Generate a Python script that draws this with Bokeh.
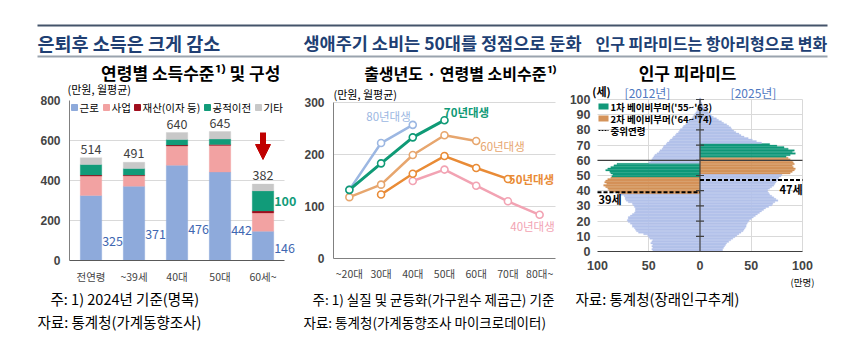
from bokeh.plotting import figure
from bokeh.layouts import column, row
from bokeh.models import Range1d, FixedTicker, Label, Arrow, NormalHead, ColumnDataSource
from bokeh.embed import file_html
from bokeh.resources import INLINE
from bokeh.core.properties import value

KR = "Noto Sans CJK KR"
NUM = "Liberation Sans"

# ---------------- data ----------------
income_groups = ["전연령", "~39세", "40대", "50대", "60세~"]
income_series = ["근로", "사업", "재산(이자 등)", "공적이전", "기타"]
income_labor = [325, 371, 476, 442, 146]
income_business = [97, 53, 97, 133, 92]
income_property = [5, 3, 4, 5, 10]
income_transfer = [53, 33, 28, 27, 100]
income_other = [34, 31, 35, 38, 34]
income_total = [514, 491, 640, 645, 382]

age_groups = ["~20대", "30대", "40대", "50대", "60대", "70대", "80대~"]
cohort_names = ["40년대생", "50년대생", "60년대생", "80년대생", "70년대생"]
cons_1940s = [None, None, 149, 171, 140, 110, 84]
cons_1950s = [None, 123, 163, 197, 174, 153, None]
cons_1960s = [118, 142, 199, 237, 226, None, None]
cons_1980s = [132, 222, 257, None, None, None, None]
cons_1970s = [132, 183, 233, 266, None, None, None]

pop_ages = list(range(0, 101))
pop_2012 = [
    46, 47, 46, 47, 46, 48, 47, 46, 49, 50,
    51, 55, 60, 62, 63, 64, 66, 66, 68, 70,
    71, 70, 70, 68, 66, 64, 63, 63, 63, 64,
    65, 66, 70, 72, 73, 73, 74, 78, 80, 88,
    89, 90, 92, 94, 91, 93, 92, 90, 87, 86,
    85, 87, 88, 92, 90, 87, 84, 81, 50, 48,
    47, 46, 45, 44, 42, 40, 39, 37, 36, 35,
    33, 32, 30, 29, 27, 26, 24, 23, 21, 20,
    19, 17, 16, 14, 13, 11, 9, 8, 7, 6,
    5, 4, 3, 3, 2, 2, 1, 1, 1, 0.5, 0.5,
]
pop_2025 = [
    22, 22, 23, 24, 25, 26, 28, 30, 32, 34,
    36, 38, 40, 42, 43, 44, 45, 45, 46, 47,
    48, 50, 52, 54, 56, 58, 60, 62, 64, 67,
    70, 71, 73, 76, 74, 72, 70, 68, 67, 66,
    66, 68, 70, 72, 73, 74, 75, 76, 77, 79,
    80, 88, 90, 92, 93, 91, 90, 92, 91, 90,
    88, 86, 84, 88, 93, 90, 92, 86, 82, 75,
    68, 60, 55, 51, 47, 43, 40, 38, 35, 33,
    31, 30, 28, 26, 23, 21, 18, 16, 13, 11,
    10, 8, 7, 6, 5, 3, 2, 2, 1, 1, 1,
]
pop_years = [2012, 2025]
median_age = [39, 47]
boomer1_years = (1955, 1963)
boomer2_years = (1964, 1974)
x_ticks_pop = [-100, -50, 0, 50, 100]

# ---------------- styles ----------------
INC_COLORS = ["#8eaadb", "#f2a2a2", "#a00f1e", "#119b79", "#c8c8c8"]
COH_COLORS = {"40년대생": "#f2a3b3", "50년대생": "#e98b36", "60년대생": "#e7a66e",
              "80년대생": "#9cb7e2", "70년대생": "#0f9a76"}
POP_BASE = "#b3c2ea"
POP_B1 = "#11997a"
POP_B2 = "#d4935a"
GRID = "#d9d9d9"
AXIS = "#808080"


def add_label(p, x, y, text, size, color="#000000", align="left", baseline="middle",
              bold=False, font=KR):
    p.add_layout(Label(x=x, y=y, text=text, text_font=font, text_font_size=f"{size}px",
                       text_color=color, text_align=align, text_baseline=baseline,
                       text_font_style="bold" if bold else "normal"))


def limit_grid(grid, lo, hi):
    for g in grid:
        if "cross_bounds" in g.properties():
            g.cross_bounds = (lo, hi)


def make_panel(width, conv, gx0, gx1):
    # the frame covers the whole canvas of the panel; axes are placed with fixed_location
    xr = Range1d(conv(gx0, 0)[0], conv(gx1, 0)[0])
    yr = Range1d(conv(0, 350)[1], conv(0, 60)[1])
    p = figure(width=width, height=290, x_range=xr, y_range=yr, toolbar_location=None,
               output_backend="svg", title_location=None, min_border=0)
    p.outline_line_color = None
    p.background_fill_color = "white"
    p.border_fill_color = "white"
    for ax in (p.xaxis, p.yaxis):
        ax.major_tick_line_color = None
        ax.minor_tick_line_color = None
        ax.major_tick_out = 0
        ax.major_tick_in = 0
        ax.minor_tick_out = 0
        ax.minor_tick_in = 0
    return p


# ---------------- header ----------------
hdr = figure(width=857, height=60, x_range=Range1d(0, 857), y_range=Range1d(60, 0),
             x_axis_type=None, y_axis_type=None, toolbar_location=None,
             output_backend="svg", title_location=None, min_border=0)
hdr.outline_line_color = None
hdr.segment(x0=[37, 37], y0=[25, 56], x1=[827, 827], y1=[25, 56],
            line_color=["#44546a", "#9aa3ae"], line_width=2)
hdr.text(x=[37], y=[42], text=["은퇴후  소득은  크게  감소"], text_font=value(KR),
         text_font_size="18.5px", text_font_style="bold", text_color="#203f73",
         text_baseline="middle")
hdr.text(x=[303], y=[42], text=["생애주기 소비는 50대를 정점으로 둔화"], text_font=value(KR),
         text_font_size="17.5px", text_font_style="bold", text_color="#203f73",
         text_baseline="middle")
hdr.text(x=[595], y=[42], text=["인구 피라미드는 항아리형으로 변화"], text_font=value(KR),
         text_font_size="16px", text_font_style="bold", text_color="#203f73",
         text_baseline="middle")

# ---------------- panel 1 ----------------
def P1(px, py):
    return ((px - 69) / 43.0 - 0.5, (260 - py) * 5.0)

n1 = len(income_groups)
p1 = make_panel(300, P1, 0, 300)
src1 = ColumnDataSource(dict(x=list(range(n1)), labor=income_labor,
                             business=income_business, prop=income_property,
                             transfer=income_transfer, other=income_other))
p1.vbar_stack(["labor", "business", "prop", "transfer", "other"], x="x", width=0.5,
              source=src1, color=INC_COLORS, line_width=0.3)
p1.xgrid.visible = False
p1.ygrid.ticker = FixedTicker(ticks=[200, 400, 600])
p1.ygrid.grid_line_color = GRID
limit_grid(p1.ygrid, -0.5, n1 - 0.5)
p1.xaxis.fixed_location = 0
p1.xaxis.bounds = (-0.5, n1 - 0.5)
p1.yaxis.fixed_location = -0.5
p1.yaxis.bounds = (0, 800)
p1.xaxis.ticker = FixedTicker(ticks=list(range(n1)))
p1.xaxis.major_label_overrides = {i: g for i, g in enumerate(income_groups)}
p1.yaxis.ticker = FixedTicker(ticks=[0, 200, 400, 600, 800])
p1.xaxis.major_label_text_font = KR
p1.xaxis.major_label_text_font_size = "10.5px"
p1.xaxis.major_label_standoff = 8
p1.yaxis.major_label_text_font = NUM
p1.yaxis.major_label_text_font_size = "12px"
p1.yaxis.major_label_text_font_style = "bold"
p1.yaxis.major_label_standoff = 9
p1.xaxis.axis_line_color = "#595959"
p1.yaxis.axis_line_color = AXIS

xs1 = list(range(n1))
p1.text(x=xs1, y=income_total, text=[str(v) for v in income_total], text_align="center",
        text_baseline="bottom", y_offset=-4, text_font=value(KR),
        text_font_size="12.5px", text_color="#404040")
labor_label_y = [100, 135, 160, 155, 65]
p1.text(x=[x + 0.26 for x in xs1], y=labor_label_y, text=[str(v) for v in income_labor],
        text_align="left", text_baseline="middle", text_font=value(KR),
        text_font_size="12.5px", text_color="#3f67b1")
p1.text(x=[xs1[-1] + 0.26], y=[300], text=[str(income_transfer[-1])], text_align="left",
        text_baseline="middle", text_font=value(KR), text_font_size="12.5px",
        text_color="#119b79", text_font_style="bold")
p1.add_layout(Arrow(x_start=xs1[-1], y_start=640, x_end=xs1[-1], y_end=505, line_width=6,
                    line_color="#c00000",
                    end=NormalHead(size=15, fill_color="#c00000", line_color="#c00000")))
leg_px = [74, 106, 137, 207, 258]
p1.scatter(x=[P1(px, 107)[0] for px in leg_px], y=[P1(0, 107)[1]] * 5, marker="square",
           size=6, color=INC_COLORS)
p1.text(x=[P1(px + 5, 107)[0] for px in leg_px], y=[P1(0, 107)[1]] * 5, text=income_series,
        text_font=value(KR), text_font_size="10.5px", text_baseline="middle",
        text_color="#000000")
add_label(p1, *P1(196, 72), "연령별  소득수준¹⁾  및  구성", 17, align="center", bold=True)
add_label(p1, *P1(67, 88), "(만원, 월평균)", 11)
add_label(p1, *P1(50, 298), "주: 1) 2024년 기준(명목)", 14.5)
add_label(p1, *P1(37, 321), "자료: 통계청(가계동향조사)", 14.5)

# ---------------- panel 2 ----------------
def P2(px, py):
    return ((px - 333) / 222.0 * 7 - 0.5, (258 - py) / 156.0 * 300)

n2 = len(age_groups)
p2 = make_panel(270, P2, 300, 570)
p2.xgrid.visible = False
p2.ygrid.ticker = FixedTicker(ticks=[100, 200, 300])
p2.ygrid.grid_line_color = GRID
limit_grid(p2.ygrid, -0.5, n2 - 0.5)
p2.xaxis.fixed_location = 0
p2.xaxis.bounds = (-0.5, n2 - 0.5)
p2.yaxis.fixed_location = -0.5
p2.yaxis.bounds = (0, 300)
p2.xaxis.ticker = FixedTicker(ticks=list(range(n2)))
p2.xaxis.major_label_overrides = {i: g for i, g in enumerate(age_groups)}
p2.yaxis.ticker = FixedTicker(ticks=[0, 100, 200, 300])
p2.xaxis.major_label_text_font = KR
p2.xaxis.major_label_text_font_size = "10.5px"
p2.xaxis.major_label_standoff = 7
p2.yaxis.major_label_text_font = NUM
p2.yaxis.major_label_text_font_size = "12px"
p2.yaxis.major_label_text_font_style = "bold"
p2.yaxis.major_label_standoff = 9
p2.xaxis.axis_line_color = AXIS
p2.yaxis.axis_line_color = AXIS

cohort_values = {"40년대생": cons_1940s, "50년대생": cons_1950s, "60년대생": cons_1960s,
                 "80년대생": cons_1980s, "70년대생": cons_1970s}
for name in cohort_names:
    vals = cohort_values[name]
    xs = [i for i, v in enumerate(vals) if v is not None]
    ys = [v for v in vals if v is not None]
    c = COH_COLORS[name]
    p2.line(xs, ys, line_color=c, line_width=3 if name == "70년대생" else 2.5)
    p2.scatter(xs, ys, size=7, fill_color="white", line_color=c, line_width=1.6)

coh_label_pos = {"80년대생": (388, 115), "70년대생": (466, 111), "60년대생": (502, 145),
                 "50년대생": (531, 178), "40년대생": (532, 225)}
for name in cohort_names:
    px, py = coh_label_pos[name]
    add_label(p2, *P2(px, py), name, 11.5, color=COH_COLORS[name], align="center",
              bold=name in ("70년대생", "50년대생"))
add_label(p2, *P2(462, 72), "출생년도 · 연령별  소비수준¹⁾", 16, align="center", bold=True)
add_label(p2, *P2(333, 93), "(만원, 월평균)", 11)
add_label(p2, *P2(312, 298), "주: 1) 실질 및 균등화(가구원수 제곱근) 기준", 13.5)
add_label(p2, *P2(303, 321), "자료: 통계청(가계동향조사 마이크로데이터)", 13.5)

# ---------------- panel 3 ----------------
def P3(px, py):
    return ((px - 597) / 205.0 * 200 - 100, (251 - py) / 152.0 * 100)

p3 = make_panel(287, P3, 570, 857)
p3.xgrid.ticker = FixedTicker(ticks=[-50, 50, 100])
p3.ygrid.ticker = FixedTicker(ticks=list(range(10, 101, 10)))
p3.xgrid.grid_line_color = GRID
p3.ygrid.grid_line_color = GRID
limit_grid(p3.xgrid, pop_ages[0], pop_ages[-1])
limit_grid(p3.ygrid, x_ticks_pop[0], x_ticks_pop[-1])
p3.xaxis.fixed_location = pop_ages[0]
p3.xaxis.bounds = (x_ticks_pop[0], x_ticks_pop[-1])
p3.yaxis.fixed_location = x_ticks_pop[0]
p3.yaxis.bounds = (pop_ages[0], pop_ages[-1])
p3.xaxis.ticker = FixedTicker(ticks=x_ticks_pop)
p3.xaxis.major_label_overrides = {t: str(abs(t)) for t in x_ticks_pop}
p3.yaxis.ticker = FixedTicker(ticks=list(range(0, 101, 10)))
for ax in (p3.xaxis, p3.yaxis):
    ax.major_label_text_font = NUM
    ax.major_label_text_font_size = "12.5px"
    ax.major_label_text_font_style = "bold"
p3.xaxis.major_label_standoff = 9
p3.yaxis.major_label_standoff = 7
p3.xaxis.axis_line_color = "#404040"
p3.yaxis.axis_line_color = None


def band_color(year, age):
    b = year - age
    if boomer1_years[0] <= b <= boomer1_years[1]:
        return POP_B1
    if boomer2_years[0] <= b <= boomer2_years[1]:
        return POP_B2
    return POP_BASE


for year, pop, sign in ((pop_years[0], pop_2012, -1), (pop_years[1], pop_2025, 1)):
    cols = [band_color(year, a) for a in pop_ages]
    p3.hbar(y=[a + 0.5 for a in pop_ages], left=[-v if sign < 0 else 0 for v in pop],
            right=[0 if sign < 0 else v for v in pop], height=1,
            fill_color=cols, line_color=cols, line_width=0.3)

# zero axis, age-60 line, age ticks on the zero axis
p3.segment(x0=[0], y0=[pop_ages[0]], x1=[0], y1=[pop_ages[-1]], line_color="#404040",
           line_width=1.2)
p3.segment(x0=[x_ticks_pop[0]], y0=[60], x1=[x_ticks_pop[-1]], y1=[60],
           line_color="#404040", line_width=1.2)
p3.scatter(x=[0] * 10, y=list(range(10, 101, 10)), marker="dash", size=8,
           line_color="#404040", line_width=1.2)
p3.segment(x0=[x_ticks_pop[0], 0], y0=median_age, x1=[0, x_ticks_pop[-1]], y1=median_age,
           line_color="#000000", line_width=2, line_dash="4 2")
add_label(p3, *P3(598, 198), f"{median_age[0]}세", 11, bold=True)
add_label(p3, *P3(779, 188), f"{median_age[1]}세", 11, bold=True)

p3.rect(x=[P3(603, 0)[0]] * 2, y=[P3(0, 106)[1], P3(0, 118)[1]], width=9.8, height=4,
        fill_color=[POP_B1, POP_B2], line_color=None)
p3.segment(x0=[P3(598, 0)[0]], y0=[P3(0, 130)[1]], x1=[P3(608, 0)[0]], y1=[P3(0, 130)[1]],
           line_color="#000000", line_width=1.2, line_dash="2 1")
add_label(p3, *P3(610, 106), "1차 베이비부머('55~'63)", 9.5, bold=True)
add_label(p3, *P3(610, 118), "2차 베이비부머('64~'74)", 9.5, bold=True)
add_label(p3, *P3(610, 130), "중위연령", 9.5, bold=True)

add_label(p3, *P3(689, 72), "인구  피라미드", 17, align="center", bold=True)
add_label(p3, *P3(601, 90), "(세)", 11, align="center", bold=True)
add_label(p3, *P3(647, 92), f"[{pop_years[0]}년]", 12, color="#4f78bf", align="center")
add_label(p3, *P3(753, 92), f"[{pop_years[1]}년]", 12, color="#4f78bf", align="center")
add_label(p3, *P3(802, 281), "(만명)", 9.5, align="center")
add_label(p3, *P3(575, 298), "자료: 통계청(장래인구추계)", 14.5)

layout = column(hdr, row(p1, p2, p3, spacing=0), spacing=0)
open("out.html", "w").write(file_html(layout, INLINE))
